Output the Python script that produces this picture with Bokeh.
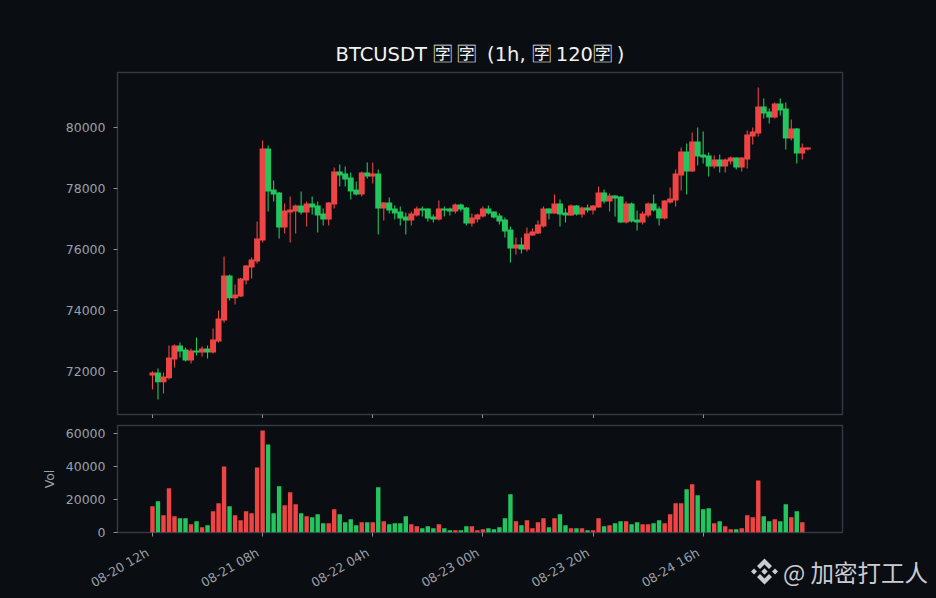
from bokeh.plotting import figure
from bokeh.models import Range1d, FixedTicker, ColumnDataSource, LinearAxis
from bokeh.core.properties import value
from bokeh.layouts import column
from bokeh.embed import file_html
from bokeh.resources import INLINE

BG = "#0a0d11"
SPINE = "#333945"
TICK = "#8b9099"
LABEL = "#9aa0a8"
RED = "#ef4444"
GREEN = "#22c55e"
FONT = "DejaVu Sans"

title_text = "BTCUSDT \U0001F211\u2009\U0001F211\u2009 (1h, \U0001F211\u2009120\U0001F211\u2009)"
watermark = "@ 加密打工人"
tick_positions = [0, 20, 40, 60, 80, 100]
label_positions = [-0.9, 19.1, 39.1, 59.1, 79.1, 99.1]
tick_labels = ["08-20 12h", "08-21 08h", "08-22 04h", "08-23 00h", "08-23 20h", "08-24 16h"]

opens = [71886,71984,71668,71798,72409,72865,72735,72376,72702,72637,72767,72637,72996,73682,75152,74410,74465,74988,75413,75609,
 76294,79298,77959,77861,76718,77209,77241,77437,77209,77502,77437,77176,76980,77470,78548,78482,78351,77959,77796,78515,
 78384,78482,77339,77535,77339,77241,77078,76947,77111,77339,77339,77078,76980,77339,77339,77241,77470,77372,76849,76980,
 77078,77339,77241,77111,76980,76653,76033,76163,76000,76457,76523,76751,77339,77176,77502,77209,77111,77437,77143,77372,
 77274,77372,77861,77567,77764,77731,76882,77502,76980,76882,77111,77502,77339,77013,77535,77600,78416,79200,78548,79527,
 79102,79070,78711,78939,78711,78874,79004,78678,78939,79690,79788,80670,80506,80310,80768,80604,79625,79951,79135,79266]
highs = [72026,72114,71984,72865,72898,72963,72800,72767,73127,72833,72865,73420,74008,75772,75185,74857,75070,75490,75739,76914,
 79559,79396,78253,77880,77502,77731,77470,77894,77567,77731,77567,77339,77550,78678,78776,78711,78515,78220,78548,78841,
 78841,78613,77550,77698,77437,77404,77209,77241,77404,77404,77350,77143,77600,77404,77372,77502,77502,77385,77176,77176,
 77404,77437,77250,77176,77045,76751,76392,76392,76718,76686,76947,77404,77350,77796,77633,77339,77470,77450,77404,77470,
 77450,78057,77959,77829,77775,77740,77567,77535,77274,77241,77535,77796,77404,77610,78025,78613,79331,79462,79821,79984,
 79853,79168,79070,79102,78972,79037,79015,79015,79886,79984,81290,80931,80604,80800,80931,80800,80245,79965,79462,79340]
lows = [71429,71103,71298,71756,72147,72473,72343,72278,72539,72506,72441,72604,72963,73617,74335,74204,74450,74857,75054,75543,
 76229,77241,77567,76359,76523,76229,76523,77143,76751,77143,76555,76784,76784,77339,78057,78057,77633,77764,77731,78318,
 78155,76490,76947,77176,76980,76784,76490,76784,77078,77078,76914,76882,76947,77078,77111,77176,77241,76784,76751,76882,
 77045,77143,77013,76816,76392,75576,75837,75870,75935,76445,76510,76718,76980,77165,76751,76882,77100,77111,77045,77209,
 77143,77360,77502,77241,77078,76870,76849,76882,76621,76816,77045,77241,76784,76980,77502,77404,77927,77796,78535,78743,
 78808,78384,78645,78515,78515,78776,78613,78548,78645,79429,79690,80278,80115,80278,80376,79266,79559,78808,78939,79233]
closes = [71984,71668,71854,72473,72865,72669,72376,72702,72637,72767,72637,73062,73747,75152,74410,74531,75054,75478,75674,76359,
 79298,77894,77796,76718,77274,77306,77437,77209,77502,77372,77111,76980,77535,78548,78416,78286,77894,77796,78515,78384,
 78482,77339,77535,77274,77176,77013,76947,77176,77339,77274,77013,76980,77339,77274,77241,77470,77306,76849,77045,77143,
 77339,77176,77045,76914,76588,76033,76163,76000,76523,76588,76816,77339,77176,77502,77143,77111,77437,77143,77372,77274,
 77437,77861,77567,77764,77665,76882,77502,76914,76882,77176,77502,77274,77013,77600,77665,78482,79200,78548,79527,79037,
 79004,78711,78939,78711,78939,79004,78678,79004,79755,79853,80670,80441,80310,80768,80539,79625,79951,79135,79331,79331]
volumes = [15880,18900,10450,26730,9850,8640,8640,5025,6830,3220,4420,12860,17690,40000,15880,10450,7440,12860,11660,39400,
 61700,53270,11660,27940,16480,24320,17090,11660,9850,9250,11050,5630,5630,14070,11050,6230,8040,4420,6230,6230,
 6230,27340,6830,5025,5630,5630,9850,5025,3820,2610,3820,2610,5025,2610,1400,1400,1400,3820,3820,1400,
 2010,2610,2010,3220,8640,23115,6830,4420,7440,2610,6230,8640,3220,8640,11050,4420,2610,2610,2610,1400,
 1400,8640,3820,4420,5630,6830,6830,5025,6230,5025,5025,5630,7440,5630,11050,17690,17690,26130,29150,22510,
 14070,14670,5630,6830,3820,2010,2010,2610,10450,9250,31560,9850,6830,8040,6830,17090,9250,12860,6230,0]

idx = list(range(len(opens)))
colors = [RED if c >= o else GREEN for o, c in zip(opens, closes)]
body_top = [max(o, c) for o, c in zip(opens, closes)]
body_bot = [min(o, c) for o, c in zip(opens, closes)]
src = ColumnDataSource(dict(x=idx, o=opens, h=highs, l=lows, c=closes, v=volumes,
                            top=body_top, bot=body_bot, color=colors))

X_RANGE = (-6.35, 125.3)


def style_axis(ax):
    ax.axis_line_color = None
    ax.major_tick_line_color = TICK
    ax.major_tick_line_width = 1
    ax.major_tick_out = 4
    ax.major_tick_in = 0
    ax.minor_tick_line_color = None
    ax.major_label_text_color = LABEL
    ax.major_label_text_font = FONT
    ax.major_label_text_font_size = "12.5px"


def style(p):
    p.background_fill_color = BG
    p.border_fill_color = BG
    p.outline_line_color = SPINE
    p.outline_line_width = 1.4
    p.grid.visible = False
    style_axis(p.xaxis[0])
    style_axis(p.yaxis[0])
    p.yaxis[0].major_label_standoff = 8
    p.xaxis[0].ticker = FixedTicker(ticks=tick_positions)
    p.xaxis[0].major_label_overrides = {t: "" for t in tick_positions}
    p.xaxis[0].major_label_standoff = 0


price = figure(width=925, height=420, frame_width=725, frame_height=342,
               x_range=Range1d(*X_RANGE), y_range=Range1d(70612, 81780),
               output_backend="svg", toolbar_location=None,
               min_border_left=117, min_border_right=83, min_border_top=72, min_border_bottom=0)
style(price)
price.title.text = title_text
price.title.text_color = "#f2f2f2"
price.title.text_font = "DejaVu Sans"
price.title.text_font_size = "19.5px"
price.title.text_font_style = "normal"
price.title.align = "center"
price.title.standoff = 13
price.yaxis[0].ticker = FixedTicker(ticks=[72000, 74000, 76000, 78000, 80000])
price.segment("x", "h", "x", "l", source=src, color="color", line_width=1.1)
price.vbar(x="x", top="top", bottom="bot", width=1.09, source=src, fill_color="color", line_color=None)

vol = figure(width=925, height=170, frame_width=725, frame_height=107,
             x_range=price.x_range, y_range=Range1d(0, 64800),
             output_backend="svg", toolbar_location=None,
             min_border_left=117, min_border_right=83, min_border_top=7, min_border_bottom=0)
style(vol)
vol.yaxis[0].ticker = FixedTicker(ticks=[0, 20000, 40000, 60000])
vol.yaxis[0].axis_label = "Vol"
vol.yaxis[0].axis_label_text_color = LABEL
vol.yaxis[0].axis_label_text_font = FONT
vol.yaxis[0].axis_label_text_font_size = "12.5px"
vol.yaxis[0].axis_label_text_font_style = "normal"
vol.yaxis[0].axis_label_standoff = 6
date_axis = LinearAxis(ticker=FixedTicker(ticks=label_positions),
                       major_label_overrides=dict(zip(label_positions, tick_labels)))
style_axis(date_axis)
date_axis.major_tick_line_color = None
date_axis.major_tick_out = 0
date_axis.major_label_orientation = 0.5236
date_axis.major_label_standoff = 15
vol.add_layout(date_axis, "below")
vol.vbar(x="x", top="v", bottom=0, width=0.8, source=src, fill_color="color", line_color=None)

# watermark overlay: top-left at (745, 550), a root of its own so that it is not aligned with the panels
wm = figure(width=190, height=44, x_range=Range1d(0, 190), y_range=Range1d(44, 0),
            output_backend="svg", toolbar_location=None, min_border=0,
            x_axis_location=None, y_axis_location=None,
            styles={"position": "absolute", "left": "745px", "top": "550px"})
wm.grid.visible = False
wm.background_fill_color = None
wm.border_fill_color = None
wm.outline_line_color = None
logo_cx, logo_cy = 19, 21
logo = [
    [(0, 13), (7.5, 5.5), (4.5, 2.5), (0, 7), (-4.5, 2.5), (-7.5, 5.5)],
    [(0, -13), (7.5, -5.5), (4.5, -2.5), (0, -7), (-4.5, -2.5), (-7.5, -5.5)],
    [(0, 3.2), (3.2, 0), (0, -3.2), (-3.2, 0)],
    [(-10.5, 3), (-7.5, 0), (-10.5, -3), (-13.5, 0)],
    [(10.5, 3), (13.5, 0), (10.5, -3), (7.5, 0)],
]
wm.patches([[logo_cx + a for a, b in poly] for poly in logo],
           [[logo_cy + b for a, b in poly] for poly in logo],
           fill_color="#c9ccd1", line_color=None)
wm.text([37.5], [21], text=[watermark], text_color="#c9ccd1", text_font=value("Noto Sans CJK SC"),
        text_font_size="23.5px", text_baseline="middle", text_align="left")

page = column(price, vol, spacing=0, sizing_mode="fixed", styles={"background-color": BG})
html = file_html([page, wm], INLINE, title="BTCUSDT")
html = html.replace("<head>", "<head><style>html,body{background:%s;}</style>" % BG, 1)
open("out.html", "w").write(html)
